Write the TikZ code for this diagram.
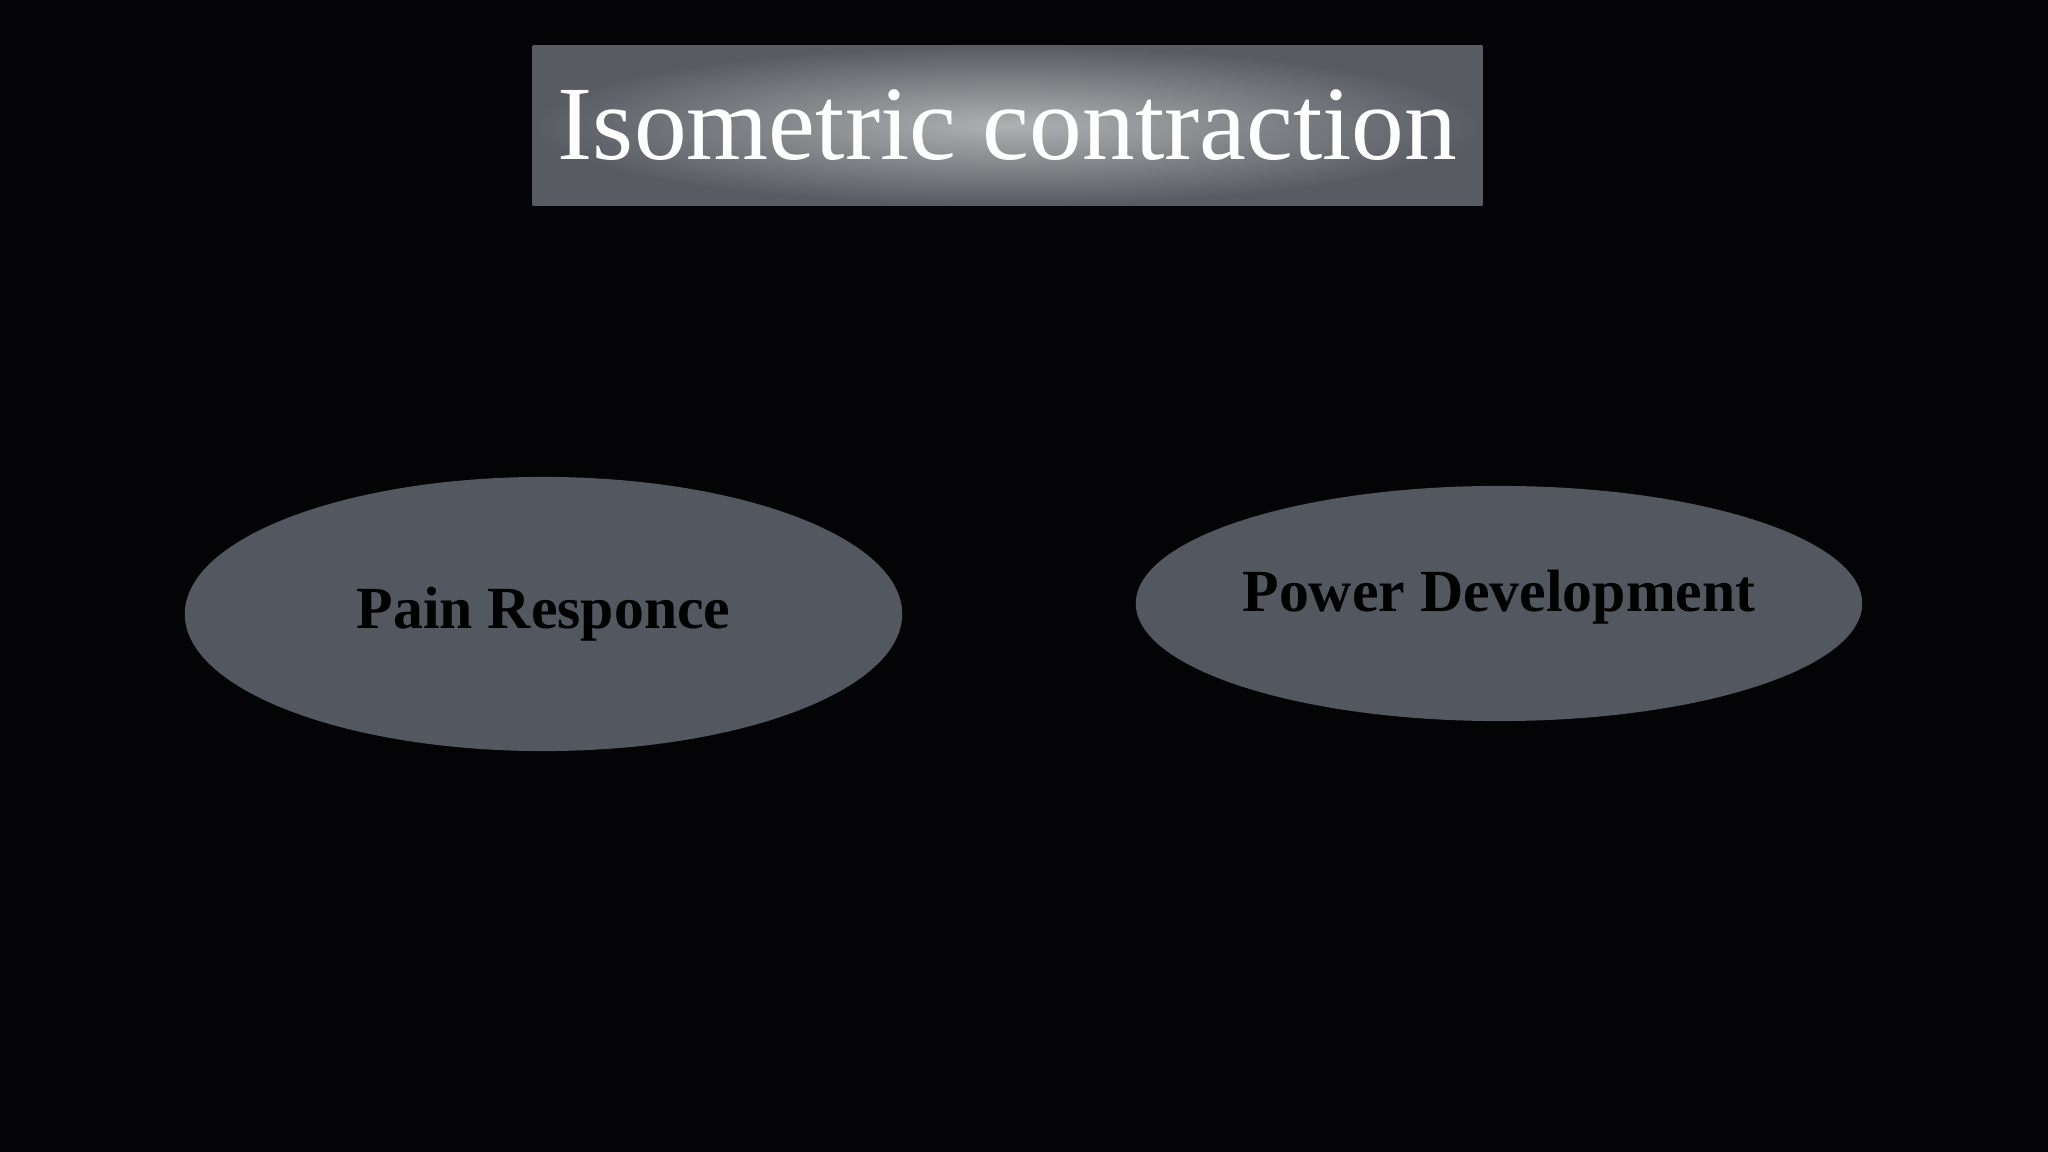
\documentclass[tikz,border=0pt]{standalone}
\usepackage{fontspec}
\setmainfont{Liberation Serif}
\usetikzlibrary{shapes.geometric}
\definecolor{bg}{RGB}{4,4,6}
\definecolor{ellfill}{RGB}{83,87,96}
\tikzset{
  ell/.style={ellipse, fill=ellfill, inner sep=0pt, font=\fontsize{17}{20}\selectfont\bfseries, text=black},
}
\begin{document}
\begin{tikzpicture}[x=0.01cm,y=-0.01cm]
\fill[bg] (0,0) rectangle (2048,1152);
\useasboundingbox (0,0) rectangle (2048,1152);
\node[rectangle, minimum width=9.49cm, minimum height=1.59cm, inner sep=0pt,
  inner color={rgb,255:red,175;green,176;blue,178}, outer color={rgb,255:red,88;green,91;blue,98},
  text=white, font=\fontsize{30}{34}\selectfont] (title) at (1007.5,125.5) {Isometric contraction};
\node[ell, minimum width=7.17cm, minimum height=2.74cm] (pain) at (543.5,614) {Pain Responce};
\node[ell, minimum width=7.26cm, minimum height=2.35cm] (power) at (1499,603.5) {\raisebox{0.25cm}{Power Development}};
\end{tikzpicture}
\end{document}
